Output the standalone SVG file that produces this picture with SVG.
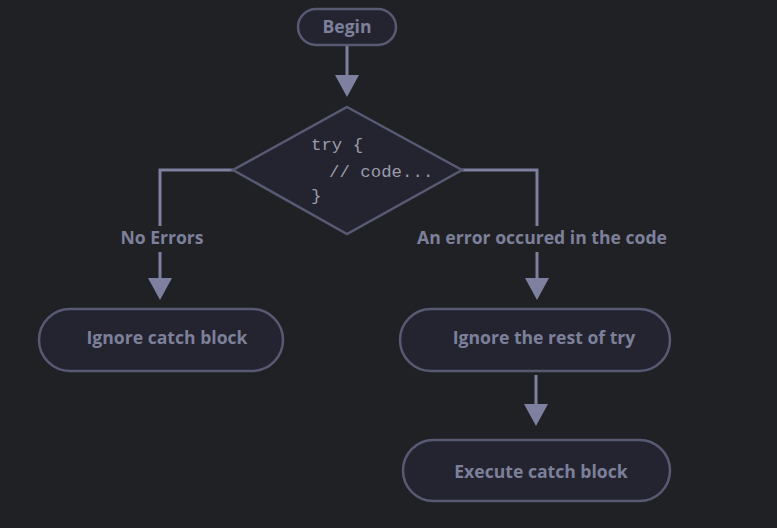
<svg xmlns="http://www.w3.org/2000/svg" width="777" height="528" viewBox="0 0 777 528">
<defs>
<style>
.node{fill:#23242f;stroke:#575a72;stroke-width:2.5}
.lbl{font-family:"Open Sans","Liberation Sans",sans-serif;font-weight:bold;font-size:17.6px;fill:#7d809b;text-anchor:middle}
.code{font-family:"Liberation Mono","DejaVu Sans Mono",monospace;font-size:17.4px;fill:#9a9cab}
.edge{fill:none;stroke:#7d809f;stroke-width:3}
.head{fill:#7d809f}
</style>
</defs>
<rect width="777" height="528" fill="#202124"/>
<g id="connectors">
<path class="edge" d="M347,45 V76"/>
<polygon class="head" points="335,75 359,75 347,97"/>
<path class="edge" d="M233,170 H160 V226"/>
<path class="edge" d="M160,252 V280"/>
<polygon class="head" points="148,278 172,278 160,300"/>
<path class="edge" d="M462,170 H537 V226"/>
<path class="edge" d="M537,252 V280"/>
<polygon class="head" points="525,278 549,278 537,300"/>
<path class="edge" d="M536,375 V406"/>
<polygon class="head" points="524,404 548,404 536,426"/>
<text class="lbl" x="162" y="244">No Errors</text>
<text class="lbl" x="542" y="244">An error occured in the code</text>
</g>
<g id="begin">
<rect class="node" x="298" y="9" width="98" height="36" rx="18"/>
<text class="lbl" x="347" y="33">Begin</text>
</g>
<g id="try">
<polygon class="node" points="347,107 462,170 347,234 233,170"/>
<text class="code" x="311" y="150">try {</text>
<text class="code" x="329" y="177">// code...</text>
<text class="code" x="311" y="201">}</text>
</g>
<g id="ignoreCatch">
<rect class="node" x="39" y="309" width="244" height="62" rx="31"/>
<text class="lbl" x="167" y="344">Ignore catch block</text>
</g>
<g id="ignoreRest">
<rect class="node" x="400" y="309" width="270" height="62" rx="31"/>
<text class="lbl" x="544" y="344">Ignore the rest of try</text>
</g>
<g id="executeCatch">
<rect class="node" x="403" y="440" width="267" height="61" rx="30.5"/>
<text class="lbl" x="541" y="478">Execute catch block</text>
</g>
</svg>
